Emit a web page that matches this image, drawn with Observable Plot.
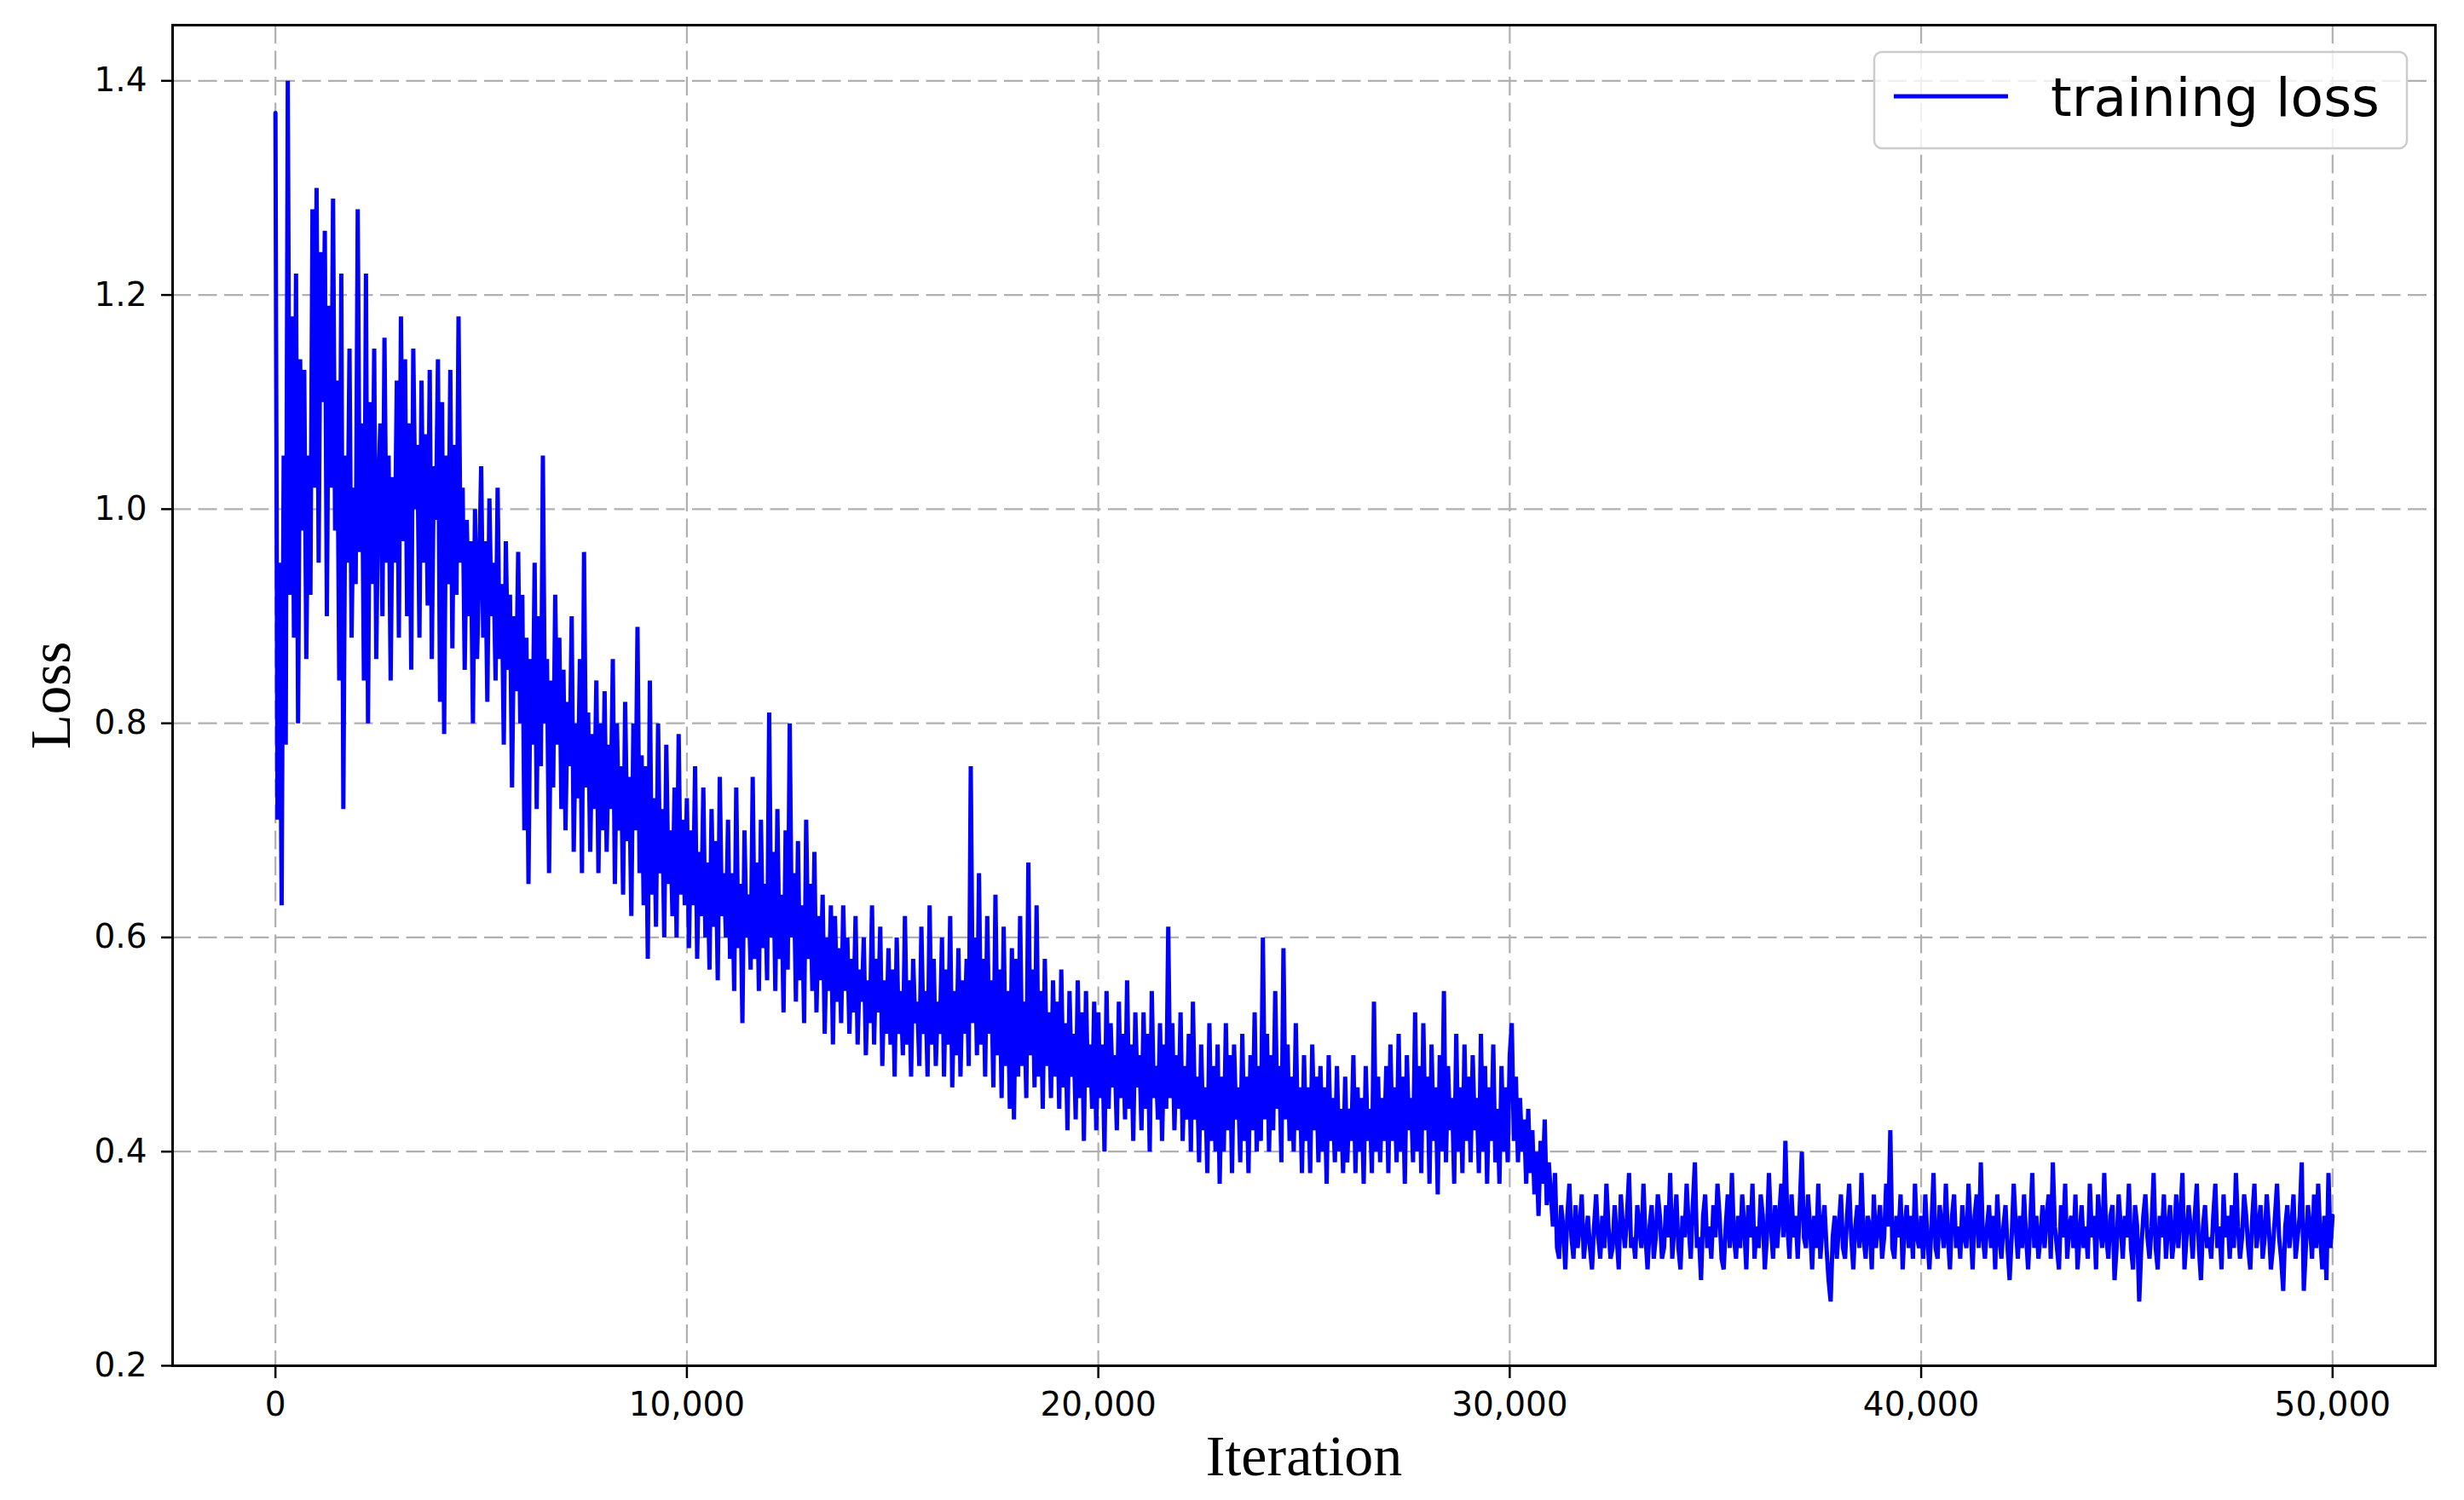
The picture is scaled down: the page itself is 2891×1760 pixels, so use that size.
<!DOCTYPE html>
<html>
<head>
<meta charset="utf-8">
<script src="https://cdn.jsdelivr.net/npm/d3@7"></script>
<script src="https://cdn.jsdelivr.net/npm/@observablehq/plot@0.6"></script>
<style>
  html, body { margin: 0; padding: 0; background: #fff; }
  svg { display: block; }
</style>
</head>
<body>
<div id="chart"></div>
<script>
// ---- data ----
const iterationStep = 50;
const xTicks = [0, 10000, 20000, 30000, 40000, 50000];
const yTicks = [0.2, 0.4, 0.6, 0.8, 1.0, 1.2, 1.4];
const seriesName = "training loss";
const xLabel = "Iteration";
const yLabel = "Loss";
const trainingLoss = [
1.37,0.71,0.95,0.63,1.05,0.78,1.40,0.92,1.18,0.88,1.22,0.80,1.14,0.98,1.13,0.86,1.05,0.92,1.28,1.02,
1.30,0.95,1.24,1.10,1.26,0.90,1.19,1.02,1.29,0.98,1.12,0.84,1.22,0.72,1.05,0.95,1.15,0.88,1.02,0.93,
1.28,0.96,1.08,0.84,1.22,0.80,1.10,0.93,1.15,0.86,1.02,1.08,0.90,1.16,0.95,1.05,0.84,1.03,0.95,1.12,
0.88,1.18,0.97,1.14,0.90,1.08,0.85,1.15,1.00,1.06,0.88,1.12,0.95,1.07,0.91,1.13,0.86,1.04,0.99,1.14,
0.82,1.10,0.79,1.05,0.93,1.13,0.87,1.06,0.92,1.18,0.95,1.02,0.85,0.99,0.90,0.97,0.80,1.00,0.86,0.94,
1.04,0.88,0.97,0.82,1.01,0.90,0.95,0.84,1.02,0.86,0.93,0.78,0.97,0.85,0.92,0.74,0.90,0.83,0.96,0.80,
0.92,0.70,0.88,0.65,0.86,0.78,0.95,0.72,0.90,0.76,1.05,0.80,0.86,0.66,0.84,0.74,0.92,0.78,0.88,0.72,
0.85,0.70,0.82,0.76,0.90,0.68,0.80,0.73,0.86,0.66,0.96,0.74,0.81,0.68,0.79,0.72,0.84,0.66,0.80,0.70,
0.83,0.68,0.78,0.72,0.86,0.65,0.80,0.70,0.76,0.64,0.82,0.69,0.75,0.62,0.80,0.70,0.89,0.66,0.77,0.63,
0.76,0.58,0.84,0.64,0.73,0.61,0.80,0.66,0.72,0.60,0.78,0.65,0.70,0.62,0.74,0.60,0.79,0.64,0.71,0.63,
0.73,0.59,0.70,0.63,0.76,0.58,0.68,0.62,0.74,0.60,0.67,0.57,0.72,0.61,0.69,0.56,0.75,0.62,0.66,0.60,
0.71,0.58,0.66,0.55,0.74,0.59,0.65,0.52,0.70,0.60,0.64,0.57,0.75,0.58,0.67,0.55,0.71,0.59,0.65,0.56,
0.81,0.60,0.68,0.55,0.72,0.58,0.64,0.53,0.70,0.57,0.80,0.60,0.66,0.54,0.69,0.56,0.63,0.52,0.71,0.58,
0.65,0.55,0.68,0.53,0.62,0.56,0.64,0.51,0.60,0.55,0.63,0.50,0.62,0.54,0.59,0.52,0.63,0.55,0.60,0.51,
0.58,0.53,0.62,0.50,0.57,0.54,0.60,0.49,0.56,0.52,0.63,0.50,0.58,0.53,0.61,0.48,0.56,0.51,0.59,0.50,
0.57,0.47,0.60,0.51,0.55,0.49,0.62,0.50,0.56,0.47,0.58,0.52,0.54,0.48,0.61,0.51,0.55,0.47,0.63,0.50,
0.58,0.48,0.54,0.51,0.60,0.47,0.57,0.50,0.62,0.46,0.55,0.49,0.59,0.47,0.56,0.51,0.58,0.48,0.76,0.52,
0.60,0.49,0.66,0.50,0.58,0.47,0.62,0.51,0.56,0.46,0.64,0.49,0.57,0.45,0.61,0.48,0.55,0.44,0.59,0.43,
0.58,0.47,0.62,0.48,0.54,0.45,0.67,0.49,0.57,0.46,0.63,0.47,0.55,0.44,0.58,0.48,0.53,0.45,0.56,0.47,
0.54,0.44,0.57,0.46,0.52,0.42,0.55,0.47,0.51,0.43,0.56,0.45,0.53,0.41,0.55,0.46,0.50,0.44,0.54,0.42,
0.53,0.45,0.50,0.40,0.55,0.44,0.52,0.46,0.49,0.42,0.54,0.45,0.51,0.43,0.56,0.44,0.50,0.41,0.53,0.46,
0.49,0.42,0.53,0.44,0.51,0.40,0.55,0.45,0.48,0.43,0.52,0.41,0.50,0.44,0.61,0.45,0.52,0.42,0.49,0.44,
0.53,0.41,0.48,0.43,0.51,0.40,0.54,0.43,0.47,0.39,0.50,0.42,0.46,0.38,0.52,0.41,0.48,0.40,0.50,0.37,
0.47,0.40,0.52,0.42,0.49,0.38,0.50,0.43,0.46,0.39,0.51,0.41,0.47,0.38,0.49,0.42,0.53,0.40,0.48,0.41,
0.60,0.43,0.51,0.40,0.49,0.42,0.55,0.44,0.48,0.39,0.59,0.43,0.50,0.41,0.47,0.40,0.52,0.42,0.46,0.38,
0.49,0.41,0.46,0.38,0.50,0.42,0.47,0.39,0.48,0.40,0.46,0.37,0.49,0.41,0.45,0.39,0.48,0.40,0.44,0.38,
0.47,0.39,0.44,0.41,0.49,0.38,0.46,0.40,0.45,0.37,0.48,0.41,0.44,0.38,0.54,0.40,0.47,0.39,0.45,0.41,
0.48,0.38,0.50,0.41,0.46,0.39,0.51,0.40,0.47,0.37,0.49,0.42,0.45,0.39,0.53,0.40,0.48,0.38,0.52,0.42,
0.47,0.37,0.50,0.41,0.46,0.36,0.49,0.40,0.55,0.39,0.48,0.42,0.45,0.37,0.51,0.40,0.46,0.38,0.50,0.41,
0.47,0.39,0.49,0.42,0.45,0.38,0.51,0.40,0.48,0.37,0.46,0.41,0.50,0.39,0.44,0.37,0.48,0.40,0.46,0.39,
0.49,0.52,0.41,0.47,0.39,0.45,0.40,0.43,0.37,0.44,0.38,0.42,0.36,0.40,0.34,0.41,0.37,0.43,0.35,0.39,
0.36,0.33,0.38,0.31,0.30,0.35,0.33,0.29,0.34,0.37,0.32,0.30,0.35,0.31,0.33,0.36,0.30,0.32,0.34,0.31,
0.29,0.33,0.36,0.32,0.30,0.34,0.31,0.37,0.33,0.30,0.31,0.35,0.32,0.29,0.36,0.33,0.31,0.34,0.38,0.31,
0.32,0.30,0.35,0.33,0.31,0.37,0.32,0.29,0.33,0.35,0.30,0.32,0.36,0.34,0.30,0.31,0.35,0.32,0.38,0.30,
0.33,0.36,0.31,0.29,0.34,0.32,0.37,0.33,0.30,0.35,0.39,0.31,0.32,0.28,0.34,0.36,0.31,0.33,0.30,0.35,
0.32,0.37,0.34,0.30,0.29,0.33,0.36,0.31,0.38,0.32,0.30,0.34,0.31,0.36,0.33,0.29,0.35,0.32,0.37,0.30,
0.33,0.31,0.36,0.34,0.29,0.32,0.38,0.33,0.30,0.35,0.31,0.34,0.37,0.32,0.41,0.33,0.30,0.36,0.32,0.34,
0.30,0.35,0.40,0.32,0.31,0.36,0.33,0.29,0.34,0.31,0.37,0.30,0.33,0.35,0.31,0.28,0.26,0.32,0.34,0.30,
0.33,0.36,0.31,0.30,0.34,0.37,0.32,0.29,0.33,0.35,0.31,0.38,0.32,0.30,0.34,0.33,0.29,0.36,0.31,0.33,
0.35,0.30,0.32,0.37,0.33,0.42,0.31,0.30,0.34,0.32,0.36,0.29,0.33,0.35,0.31,0.34,0.30,0.37,0.32,0.31,
0.34,0.30,0.36,0.32,0.29,0.33,0.38,0.31,0.30,0.35,0.33,0.31,0.37,0.32,0.29,0.34,0.36,0.31,0.33,0.30,
0.35,0.32,0.31,0.37,0.33,0.29,0.34,0.36,0.31,0.39,0.32,0.30,0.33,0.35,0.31,0.34,0.29,0.36,0.32,0.30,
0.33,0.35,0.31,0.28,0.32,0.37,0.33,0.30,0.34,0.31,0.36,0.32,0.29,0.33,0.38,0.31,0.34,0.30,0.32,0.35,
0.31,0.34,0.36,0.30,0.39,0.33,0.31,0.29,0.35,0.32,0.37,0.30,0.33,0.34,0.31,0.36,0.29,0.32,0.35,0.31,
0.33,0.30,0.37,0.32,0.34,0.29,0.36,0.33,0.31,0.38,0.32,0.30,0.34,0.35,0.28,0.31,0.36,0.33,0.30,0.34,
0.32,0.37,0.31,0.29,0.35,0.33,0.26,0.31,0.34,0.36,0.32,0.30,0.33,0.38,0.31,0.29,0.34,0.32,0.36,0.30,
0.33,0.35,0.30,0.32,0.36,0.31,0.34,0.38,0.29,0.32,0.35,0.33,0.30,0.34,0.37,0.31,0.28,0.33,0.35,0.31,
0.32,0.30,0.34,0.37,0.31,0.33,0.29,0.36,0.32,0.34,0.30,0.35,0.31,0.38,0.33,0.30,0.32,0.36,0.34,0.31,
0.29,0.34,0.37,0.31,0.33,0.35,0.30,0.32,0.36,0.33,0.29,0.31,0.34,0.37,0.32,0.30,0.27,0.33,0.35,0.31,
0.33,0.36,0.30,0.32,0.34,0.39,0.27,0.31,0.35,0.33,0.30,0.36,0.31,0.37,0.32,0.29,0.34,0.28,0.38,0.31,
0.34
];

// ---- layout ----
const W = 2891, H = 1760;
const mL = 202, mR = 34, mT = 29, mB = 158;
const lineColor = "#0000ff";
const gridColor = "#b0b0b0";

const table = trainingLoss.map((loss, i) => ({iteration: i * iterationStep, loss}));

const chart = Plot.plot({
  width: W,
  height: H,
  marginLeft: mL,
  marginRight: mR,
  marginTop: mT,
  marginBottom: mB,
  style: {background: "#fff", fontFamily: "DejaVu Sans", color: "#000"},
  x: {domain: [-2500, 52500]},
  y: {domain: [0.2, 1.452]},
  marks: [
    Plot.gridX(xTicks, {stroke: gridColor, strokeOpacity: 1, strokeWidth: 2.2, strokeDasharray: "22,8.5"}),
    Plot.gridY(yTicks, {stroke: gridColor, strokeOpacity: 1, strokeWidth: 2.2, strokeDasharray: "22,8.5"}),
    Plot.line(table, {x: "iteration", y: "loss", stroke: lineColor, strokeWidth: 5, strokeLinejoin: "miter", strokeMiterlimit: 2}),
    Plot.frame({stroke: "#000", strokeWidth: 3}),
    Plot.axisX(xTicks, {tickFormat: d3.format(","), tickSize: 15, tickPadding: 16, fontSize: 39, strokeWidth: 2.5, label: null, fontFamily: "DejaVu Sans"}),
    Plot.axisY(yTicks, {tickFormat: d3.format(".1f"), tickSize: 13, tickPadding: 17, fontSize: 39, strokeWidth: 2.5, label: null, fontFamily: "DejaVu Sans"}),
    Plot.text([xLabel], {frameAnchor: "bottom", dy: 128, lineAnchor: "bottom", textAnchor: "middle", fontFamily: "Liberation Serif", fontSize: 68, fill: "#000"}),
    Plot.text([yLabel], {frameAnchor: "left", dx: -121, rotate: -90, lineAnchor: "bottom", textAnchor: "middle", fontFamily: "Liberation Serif", fontSize: 67, fill: "#000"})
  ]
});

// ---- legend (inside the frame, upper right) ----
const svg = d3.select(chart);
const frameRight = W - mR;
const boxW = 625, boxH = 113;
const bx = frameRight - 33 - boxW, by = mT + 32;
const lg = svg.append("g").attr("text-anchor", "start");
lg.append("rect")
  .attr("x", bx).attr("y", by).attr("width", boxW).attr("height", boxH)
  .attr("rx", 9).attr("ry", 9)
  .attr("fill", "#fff").attr("fill-opacity", 0.8)
  .attr("stroke", "#cccccc").attr("stroke-width", 2.5);
lg.append("line")
  .attr("x1", bx + 23).attr("x2", bx + 157)
  .attr("y1", by + 52).attr("y2", by + 52)
  .attr("stroke", lineColor).attr("stroke-width", 5);
lg.append("text")
  .attr("x", bx + 207).attr("y", by + 75)
  .attr("text-anchor", "start")
  .attr("font-family", "DejaVu Sans").attr("font-size", 63)
  .attr("fill", "#000")
  .text(seriesName);

document.getElementById("chart").appendChild(chart);
</script>
</body>
</html>
